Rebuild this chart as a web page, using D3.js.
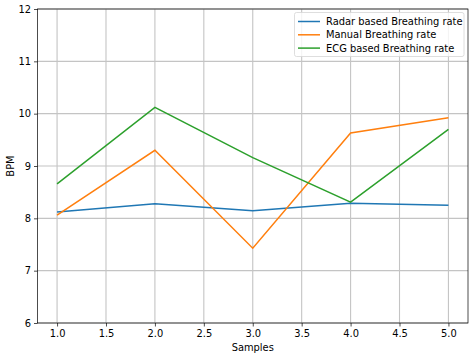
<!DOCTYPE html>
<html><head><meta charset="utf-8">
<script src="https://cdn.jsdelivr.net/npm/d3@7"></script>
<style>body{margin:0;background:#fff}svg{display:block}text{font-family:"DejaVu Sans",sans-serif;fill:#000}</style>
</head><body><svg id="c" width="474" height="355"></svg>
<script>
const samples = [1, 2, 3, 4, 5];
const radar = [8.12, 8.28, 8.145, 8.29, 8.25];
const manual = [8.06, 9.30, 7.43, 9.63, 9.92];
const ecg = [8.66, 10.12, 9.16, 8.31, 9.70];
const seriesNames = ["Radar based Breathing rate", "Manual Breathing rate", "ECG based Breathing rate"];
const seriesColors = ["#1f77b4", "#ff7f0e", "#2ca02c"];
const xTicks = [1.0, 1.5, 2.0, 2.5, 3.0, 3.5, 4.0, 4.5, 5.0];
const yTicks = [6, 7, 8, 9, 10, 11, 12];

const svg = d3.select("#c");
const L = 37.5, R = 468, T = 9, B = 323;
const FS = 9.9;
const x = d3.scaleLinear().domain([0.8, 5.2]).range([L, R]);
const y = d3.scaleLinear().domain([6, 12]).range([B, T]);

// grid
const g = svg.append("g");
g.selectAll(".gx").data(xTicks).enter().append("line")
  .attr("x1", d => x(d)).attr("x2", d => x(d)).attr("y1", T).attr("y2", B)
  .attr("stroke", "#c4c4c4").attr("stroke-width", 1.1);
g.selectAll(".gy").data(yTicks).enter().append("line")
  .attr("y1", d => y(d)).attr("y2", d => y(d)).attr("x1", L).attr("x2", R)
  .attr("stroke", "#c4c4c4").attr("stroke-width", 1.1);

// lines
const all = [radar, manual, ecg];
const line = d3.line().x((d, i) => x(samples[i])).y(d => y(d));
all.forEach((s, k) => {
  svg.append("path").datum(s).attr("d", line).attr("fill", "none")
    .attr("stroke", seriesColors[k]).attr("stroke-width", 1.5);
});

// axes
const xa = svg.append("g").attr("transform", `translate(0,${B})`)
  .call(d3.axisBottom(x).tickValues(xTicks).tickFormat(d3.format(".1f")).tickSize(3.5).tickPadding(3));
const ya = svg.append("g").attr("transform", `translate(${L},0)`)
  .call(d3.axisLeft(y).tickValues(yTicks).tickFormat(d3.format("d")).tickSize(3.5).tickPadding(3));
[xa, ya].forEach(a => {
  a.select(".domain").remove();
  a.selectAll("line").attr("stroke", "#000").attr("stroke-width", 0.7);
  a.selectAll("text").attr("font-size", FS).attr("font-family", "DejaVu Sans").attr("fill", "#000");
});

// frame
svg.append("rect").attr("x", L).attr("y", T).attr("width", R - L).attr("height", B - T)
  .attr("fill", "none").attr("stroke", "#000").attr("stroke-width", 0.7);

// labels
svg.append("text").attr("x", (L + R) / 2).attr("y", 350.5).attr("text-anchor", "middle")
  .attr("font-size", FS).text("Samples");
svg.append("text").attr("transform", `translate(14,${(T + B) / 2}) rotate(-90)`)
  .attr("text-anchor", "middle").attr("font-size", FS).text("BPM");

// legend
const lg = svg.append("g");
lg.append("rect").attr("x", 294.5).attr("y", 12.5).attr("width", 169.5).attr("height", 44).attr("rx", 2)
  .attr("fill", "#fff").attr("fill-opacity", 0.8).attr("stroke", "#d6d6d6").attr("stroke-width", 0.8);
seriesNames.forEach((n, k) => {
  const cy = 21.5 + k * 13.3;
  lg.append("line").attr("x1", 298).attr("x2", 320).attr("y1", cy).attr("y2", cy)
    .attr("stroke", seriesColors[k]).attr("stroke-width", 1.5);
  lg.append("text").attr("x", 326).attr("y", cy + 3.6).attr("font-size", FS).text(n);
});
</script></body></html>
